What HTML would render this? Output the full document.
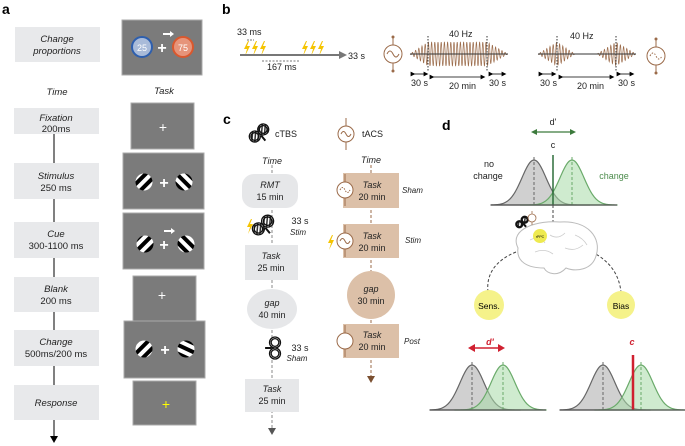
<!DOCTYPE html>
<html><head><meta charset="utf-8"><style>
body{margin:0;background:#fff}
svg{display:block;font-family:"Liberation Sans",Arial,sans-serif}
.i{font-style:italic}
</style></head><body>
<svg id="s" width="685" height="446" viewBox="0 0 685 446" xmlns="http://www.w3.org/2000/svg">
<defs>
<marker id="ab" markerWidth="6" markerHeight="6" refX="3" refY="3" orient="auto"><path d="M0,0 L6,3 L0,6z" fill="#000"/></marker>
<pattern id="st" width="8" height="8" patternUnits="userSpaceOnUse" patternTransform="rotate(45)"><rect width="8" height="8" fill="#fff"/><rect width="4" height="8" fill="#000"/></pattern>
<pattern id="st2" width="8" height="8" patternUnits="userSpaceOnUse" patternTransform="rotate(-45)"><rect width="8" height="8" fill="#fff"/><rect width="4" height="8" fill="#000"/></pattern>
<pattern id="hat" width="3" height="3" patternUnits="userSpaceOnUse" patternTransform="rotate(45)"><rect width="3" height="3" fill="#fff"/><rect width="1.5" height="3" fill="#333"/></pattern>
</defs>
<g font-weight="bold" font-size="14"><text x="2" y="14">a</text><text x="222" y="14">b</text><text x="223" y="124">c</text><text x="442" y="130">d</text></g>

<!-- panel a -->
<g font-size="9.5" fill="#222" text-anchor="middle">
<rect x="15" y="27" width="85" height="35" fill="#e8e9eb"/>
<text x="57" y="42" class="i">Change</text><text x="57" y="54" class="i">proportions</text>
<rect x="122" y="20" width="80" height="55" fill="#7b7b7b" stroke="#aaa"/>
<circle cx="142" cy="47" r="10" fill="#a9bbd9" stroke="#2e5fae" stroke-width="2"/><text x="142" y="51" fill="#fff" font-size="9">25</text>
<circle cx="183" cy="47" r="10" fill="#e6947a" stroke="#d9582e" stroke-width="2"/><text x="183" y="51" fill="#fff" font-size="9">75</text>
<text x="162" y="53" fill="#fff" font-size="16" font-weight="bold">+</text>
<path d="M163,34 h8" stroke="#fff" stroke-width="2"/><path d="M170,31 l4,3 l-4,3z" fill="#fff"/>
<text x="57" y="95" class="i">Time</text><text x="164" y="94" class="i">Task</text>
<line x1="54" y1="134" x2="54" y2="436" stroke="#000"/><path d="M50,436 L58,436 L54,443z" fill="#000"/>
<rect x="14" y="108" width="85" height="26" fill="#e8e9eb"/><text x="56" y="121" class="i">Fixation</text><text x="56" y="132">200ms</text>
<rect x="14" y="163" width="85" height="36" fill="#e8e9eb"/><text x="56" y="179" class="i">Stimulus</text><text x="56" y="191">250 ms</text>
<rect x="14" y="222" width="85" height="36" fill="#e8e9eb"/><text x="56" y="237" class="i">Cue</text><text x="56" y="249">300-1100 ms</text>
<rect x="14" y="277" width="85" height="35" fill="#e8e9eb"/><text x="56" y="292" class="i">Blank</text><text x="56" y="304">200 ms</text>
<rect x="14" y="330" width="85" height="36" fill="#e8e9eb"/><text x="56" y="345" class="i">Change</text><text x="56" y="357">500ms/200 ms</text>
<rect x="14" y="385" width="85" height="35" fill="#e8e9eb"/><text x="56" y="406" class="i">Response</text>
<rect x="131" y="103" width="63" height="46" fill="#7b7b7b" stroke="#aaa"/><text x="163" y="132" fill="#fff" font-size="14">+</text>
<rect x="123" y="153" width="81" height="56" fill="#7b7b7b" stroke="#aaa"/>
<circle cx="144" cy="182" r="8.5" fill="url(#st)"/><circle cx="184" cy="182" r="8.5" fill="url(#st2)"/><text x="164" y="188" fill="#fff" font-size="16" font-weight="bold">+</text>
<rect x="123" y="213" width="81" height="56" fill="#7b7b7b" stroke="#aaa"/>
<circle cx="145" cy="244" r="8.5" fill="url(#st)"/><circle cx="186" cy="244" r="8.5" fill="url(#st2)"/><text x="164" y="250" fill="#fff" font-size="16" font-weight="bold">+</text>
<path d="M164,231 h8" stroke="#fff" stroke-width="2"/><path d="M171,228 l4,3 l-4,3z" fill="#fff"/>
<rect x="133" y="276" width="63" height="53" fill="#7b7b7b" stroke="#aaa"/><text x="162" y="300" fill="#fff" font-size="14">+</text>
<rect x="124" y="321" width="81" height="57" fill="#7b7b7b" stroke="#aaa"/>
<circle cx="144" cy="349" r="8.5" fill="url(#st)"/><circle cx="186" cy="349" r="8.5" fill="url(#st)" transform="rotate(70 186 349)"/><text x="165" y="355" fill="#fff" font-size="16" font-weight="bold">+</text>
<rect x="133" y="381" width="63" height="44" fill="#7b7b7b" stroke="#aaa"/><text x="166" y="409" fill="#ff0" font-size="14">+</text>
</g>

<!-- panel b -->
<g font-size="9" fill="#222">
<g id="bolts" fill="#f5c400"></g>
<line x1="240" y1="55" x2="340" y2="55" stroke="#777" stroke-width="2"/><path d="M339,51 L347,55 L339,59z" fill="#777"/>
<text x="348" y="59">33 s</text><text x="237" y="35">33 ms</text><line x1="247" y1="40" x2="254" y2="40" stroke="#777" stroke-dasharray="2,1"/>
<line x1="262" y1="61" x2="300" y2="61" stroke="#777" stroke-dasharray="2,1.5"/><text x="267" y="70">167 ms</text>
<text x="449" y="37">40 Hz</text><text x="570" y="39">40 Hz</text>
<g id="waves" stroke="#9b6b4a" stroke-width="0.7" fill="none"></g>
<line x1="410" y1="54" x2="508" y2="54" stroke="#333"/><line x1="538" y1="54" x2="636" y2="54" stroke="#333"/>
<g stroke="#333" stroke-dasharray="1.5,1.5"><line x1="428" y1="36" x2="428" y2="72"/><line x1="487" y1="36" x2="487" y2="72"/><line x1="557" y1="36" x2="557" y2="72"/><line x1="616" y1="36" x2="616" y2="72"/></g>
<g stroke="#000" stroke-width="0.8" marker-start="url(#ab)" marker-end="url(#ab)">
<line x1="413" y1="74" x2="426" y2="74"/><line x1="432" y1="77" x2="483" y2="77"/><line x1="491" y1="74" x2="504" y2="74"/>
<line x1="541" y1="74" x2="554" y2="74"/><line x1="561" y1="77" x2="612" y2="77"/><line x1="619" y1="74" x2="632" y2="74"/></g>
<text x="411" y="86">30 s</text><text x="449" y="89">20 min</text><text x="489" y="86">30 s</text>
<text x="540" y="86">30 s</text><text x="577" y="89">20 min</text><text x="618" y="86">30 s</text>
</g>
<g stroke="#9b6b4a" fill="none" stroke-width="1">
<circle cx="393" cy="54" r="9" fill="#fff"/><path d="M393,37 v8 M393,63 v8"/><path d="M387,54 q3,-6 6,0 t6,0"/>
<circle cx="656" cy="56" r="9" fill="#fff"/><path d="M656,39 v8 M656,65 v8"/><path d="M650,56 q3,-6 6,0 t6,0" stroke-dasharray="1.5,1.5"/>
</g>
<g fill="#9b6b4a"><circle cx="393" cy="37" r="1.5"/><circle cx="393" cy="71" r="1.5"/><circle cx="656" cy="39" r="1.5"/><circle cx="656" cy="73" r="1.5"/></g>

<!-- panel c -->
<g font-size="9" fill="#222" text-anchor="middle">
<line x1="272" y1="165" x2="272" y2="428" stroke="#888" stroke-dasharray="3,2"/><path d="M268,428 L276,428 L272,435z" fill="#555"/>
<line x1="371" y1="165" x2="371" y2="376" stroke="#9b6b4a" stroke-dasharray="3,2"/><path d="M367,376 L375,376 L371,383z" fill="#7a4f30"/>
<text x="275" y="137" text-anchor="start">cTBS</text><text x="362" y="137" text-anchor="start">tACS</text>
<text x="272" y="164" class="i">Time</text><text x="371" y="163" class="i">Time</text>
<rect x="242" y="174" width="56" height="34" rx="12" fill="#e6e7e9"/><text x="270" y="188" class="i">RMT</text><text x="270" y="200">15 min</text>
<rect x="245" y="245" width="53" height="35" fill="#e6e7e9"/><text x="271" y="259" class="i">Task</text><text x="271" y="271">25 min</text>
<ellipse cx="272" cy="309" rx="25" ry="20" fill="#e6e7e9"/><text x="272" y="306" class="i">gap</text><text x="272" y="318">40 min</text>
<rect x="245" y="379" width="54" height="33" fill="#e6e7e9"/><text x="272" y="392" class="i">Task</text><text x="272" y="404">25 min</text>
<text x="300" y="224">33 s</text><text x="298" y="235" class="i" font-size="8">Stim</text>
<text x="300" y="351">33 s</text><text x="297" y="361" class="i" font-size="8">Sham</text>
<rect x="343" y="173" width="56" height="35" fill="#dcc0a8"/><text x="372" y="188" class="i">Task</text><text x="372" y="200">20 min</text>
<rect x="343" y="224" width="56" height="34" fill="#dcc0a8"/><text x="372" y="239" class="i">Task</text><text x="372" y="251">20 min</text>
<circle cx="371" cy="295" r="24" fill="#dcc0a8"/><text x="371" y="292" class="i">gap</text><text x="371" y="304">30 min</text>
<rect x="343" y="324" width="56" height="34" fill="#dcc0a8"/><text x="372" y="338" class="i">Task</text><text x="372" y="350">20 min</text>
<g font-size="8" class="i" text-anchor="start"><text x="402" y="193">Sham</text><text x="405" y="243">Stim</text><text x="404" y="344">Post</text></g>
</g>
<g id="tms" stroke="#111" stroke-width="1.3"></g>
<g stroke="#9b6b4a" fill="#fff" stroke-width="1">
<circle cx="346" cy="134" r="8"/><path d="M346,118 v8 M346,142 v8" fill="none"/><path d="M341,134 q2.5,-5 5,0 t5,0" fill="none"/>
<circle cx="345" cy="190" r="8"/><path d="M345,174 v8 M345,198 v8" fill="none"/><path d="M340,190 q2.5,-5 5,0 t5,0" fill="none" stroke-dasharray="1.5,1.2"/>
<circle cx="345" cy="241" r="8"/><path d="M345,225 v8 M345,249 v8" fill="none"/><path d="M340,241 q2.5,-5 5,0 t5,0" fill="none"/>
<circle cx="345" cy="341" r="8"/><path d="M345,325 v8 M345,349 v8" fill="none"/>
</g>

<!-- panel d -->
<g font-size="9" fill="#222" text-anchor="middle">
<text x="553" y="125">d'</text><text x="553" y="148">c</text>
<line x1="534" y1="132" x2="573" y2="132" stroke="#3c7a3c" stroke-width="1.3"/><path d="M537,129 L531,132 L537,135z M570,129 L576,132 L570,135z" fill="#3c7a3c"/>
<text x="489" y="167">no</text><text x="488" y="179">change</text><text x="614" y="179" fill="#4c8c4c">change</text>
<text x="490" y="345" fill="#d02030" class="i" font-weight="bold">d'</text><text x="632" y="345" fill="#d02030" class="i" font-weight="bold">c</text>
</g>
<g id="gauss"></g>
<line x1="553" y1="155" x2="553" y2="205" stroke="#2d6e3a" stroke-width="1.5"/>
<line x1="553" y1="205" x2="553" y2="224" stroke="#444" stroke-dasharray="3,2"/>
<path d="M516,252 Q485,265 488,292" fill="none" stroke="#444" stroke-dasharray="3,2"/>
<path d="M592,252 Q618,265 621,292" fill="none" stroke="#444" stroke-dasharray="3,2"/>
<path d="M518,248 C508,228 540,220 560,222 C588,220 602,238 596,256 C592,270 576,272 566,268 C558,277 547,274 544,268 C528,268 516,262 518,248z" fill="#fff" stroke="#bbb"/>
<path d="M530,240 q10,-5 15,3 M550,235 q8,5 15,-2 M535,252 q10,-4 18,2 M565,248 q10,4 18,-3 M575,235 q8,3 12,10" fill="none" stroke="#ccc" stroke-width="0.8"/>
<circle cx="540" cy="236" r="7" fill="#eeea50"/><text x="540" y="238" font-size="3.5" text-anchor="middle">rPPC</text>
<circle cx="489" cy="305" r="15" fill="#f5f28a"/><text x="489" y="309" font-size="8.5" text-anchor="middle">Sens.</text>
<circle cx="621" cy="305" r="14" fill="#f5f28a"/><text x="621" y="309" font-size="8.5" text-anchor="middle">Bias</text>
<line x1="473" y1="348" x2="500" y2="348" stroke="#d02030" stroke-width="1.5"/><path d="M475,344 L468,348 L475,352z M498,344 L505,348 L498,352z" fill="#d02030"/>
<line x1="633" y1="355" x2="633" y2="410" stroke="#d02030" stroke-width="2.5"/>
<g stroke="#555" stroke-width="1.2"><line x1="491" y1="205" x2="617" y2="205"/><line x1="430" y1="410" x2="546" y2="410"/><line x1="560" y1="410" x2="685" y2="410"/></g>
<g stroke="#9b6b4a" fill="none" stroke-width="0.8"><circle cx="532" cy="218" r="4"/><path d="M532,211 v3 M532,222 v3"/></g>
</svg>
<script>
var NS="http://www.w3.org/2000/svg";
function el(p,t,a){var e=document.createElementNS(NS,t);for(var k in a)e.setAttribute(k,a[k]);document.getElementById(p).appendChild(e);return e;}
function wave(x0,x1,envf){var d="";for(var x=x0;x<=x1;x+=0.25){var y=54+envf(x)*Math.sin((x-x0)*2*Math.PI/3.2);d+=(d?"L":"M")+x.toFixed(2)+","+y.toFixed(2);}el("waves","path",{d:d});}
wave(410,508,function(x){if(x<428)return 12*(x-410)/18;if(x>487)return 12*(508-x)/21;return 12;});
wave(538,636,function(x){if(x<557)return 12*(x-538)/19;if(x<575)return 12*(575-x)/18;if(x<597)return 0;if(x<616)return 12*(x-597)/19;return 12*(636-x)/20;});
function bolt(x,y,s){el("bolts","path",{d:"M"+(x+4*s)+","+y+" L"+x+","+(y+8*s)+" L"+(x+3*s)+","+(y+8*s)+" L"+(x+1*s)+","+(y+15*s)+" L"+(x+6*s)+","+(y+5*s)+" L"+(x+3*s)+","+(y+5*s)+" L"+(x+5*s)+","+y+"z",fill:"#f5c400"});}
[244,252,260,302,310,318].forEach(function(x){bolt(x,41,1);});
bolt(247,219,1);bolt(328,235,1);
function gauss(mu,base,h,sig,x0,x1,col,fill){var d="M"+x0+","+base;for(var x=x0;x<=x1;x+=1){d+="L"+x+","+(base-h*Math.exp(-(x-mu)*(x-mu)/(2*sig*sig))).toFixed(2);}d+="L"+x1+","+base+"z";el("gauss","path",{d:d,fill:fill,"fill-opacity":0.55,stroke:col,"stroke-width":1.2});el("gauss","line",{x1:mu,y1:base-h-3,x2:mu,y2:base,stroke:col,"stroke-dasharray":"3,2"});}
gauss(534,205,45,12,491,590,"#666","#aaa");gauss(572,205,45,12,520,617,"#6aaa6a","#a8dba8");
gauss(472,410,45,12,430,520,"#666","#aaa");gauss(503,410,45,12,455,546,"#6aaa6a","#a8dba8");
gauss(603,410,45,12,560,650,"#666","#aaa");gauss(641,410,45,12,595,685,"#6aaa6a","#a8dba8");
function coil(cx,cy,r,hat,rot){var g=document.createElementNS(NS,"g");g.setAttribute("transform","rotate("+rot+" "+cx+" "+cy+")");document.getElementById("tms").appendChild(g);
[[-r,0],[r,0]].forEach(function(o){var c=document.createElementNS(NS,"circle");c.setAttribute("cx",cx+o[0]);c.setAttribute("cy",cy+o[1]);c.setAttribute("r",r);c.setAttribute("fill",hat?"url(#hat)":"#fff");c.setAttribute("stroke","#111");c.setAttribute("stroke-width","1.3");g.appendChild(c);
var c2=c.cloneNode();c2.setAttribute("r",r*0.7);c2.setAttribute("fill","none");g.appendChild(c2);});
var l=document.createElementNS(NS,"path");l.setAttribute("d","M"+cx+","+(cy+r*0.6)+" l0,"+(r*1.2));l.setAttribute("stroke","#111");l.setAttribute("stroke-width","2");g.appendChild(l);}
coil(259,133,5.5,true,-40);coil(263,225,6,true,-40);coil(275,348,5.5,false,90);
coil(522,222,3.5,true,-40);
</script>
</body></html>
